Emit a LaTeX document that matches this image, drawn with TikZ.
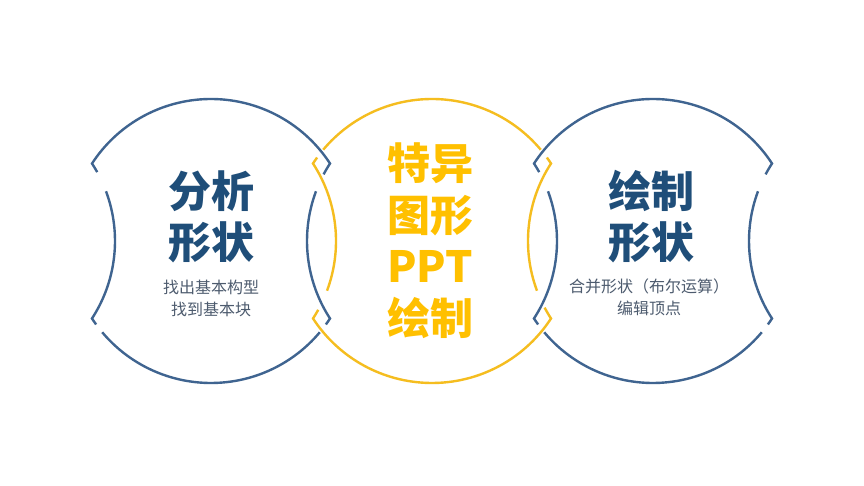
\documentclass[tikz,border=0pt]{standalone}
\usepackage{fontspec}
\newfontfamily\cjk{Noto Sans CJK SC}

\definecolor{lineblue}{HTML}{3F6490}
\definecolor{textblue}{HTML}{1F4E79}
\definecolor{notegray}{HTML}{4D5B6E}
\definecolor{linegold}{HTML}{F5BD1F}
\definecolor{textgold}{HTML}{FFC000}

\begin{document}
\begin{tikzpicture}[x=1pt,y=1pt,
  blueline/.style={draw=lineblue,line width=2.4pt,line join=miter},
  goldline/.style={draw=linegold,line width=2.4pt,line join=miter},
  bluetitle/.style={text=textblue,font=\cjk\bfseries\fontsize{43}{51}\selectfont,align=center,inner sep=0pt},
  goldtitle/.style={text=textgold,font=\cjk\bfseries\fontsize{43}{51.5}\selectfont,align=center,inner sep=0pt},
  note/.style={text=notegray,font=\cjk\fontsize{16}{22}\selectfont,align=center,inner sep=0pt}]
% Page
\fill[white] (0,0) rectangle (864,486);
\useasboundingbox (0,0) rectangle (864,486);
%
% Left shape, top arc with both corner hooks
\draw[blueline] ([shift={(152:142pt)}]449,245) arc[start angle=152,end angle=146.93,radius=142pt]
  arc[start angle=33.07,end angle=146.93,radius=142pt] arc[start angle=33.07,end angle=29,radius=142pt];
% Left shape, left side
\draw[blueline] ([shift={(20.5:142pt)}]-27,245) arc[start angle=20.5,end angle=-33.07,radius=142pt]
  arc[start angle=213.07,end angle=216,radius=142pt];
% Left shape, right side
\draw[blueline] ([shift={(159.5:142pt)}]449,245) arc[start angle=159.5,end angle=213.07,radius=142pt]
  arc[start angle=326.93,end angle=324,radius=142pt];
% Left shape, bottom arc
\draw[blueline] ([shift={(220:142pt)}]211,245) arc[start angle=220,end angle=320,radius=142pt];
%
% Right shape, top arc with both corner hooks
\draw[blueline] ([shift={(152:142pt)}]891,245) arc[start angle=152,end angle=146.93,radius=142pt]
  arc[start angle=33.07,end angle=146.93,radius=142pt] arc[start angle=33.07,end angle=29,radius=142pt];
% Right shape, left side
\draw[blueline] ([shift={(20.5:142pt)}]415,245) arc[start angle=20.5,end angle=-33.07,radius=142pt]
  arc[start angle=213.07,end angle=216,radius=142pt];
% Right shape, right side
\draw[blueline] ([shift={(159.5:142pt)}]891,245) arc[start angle=159.5,end angle=213.07,radius=142pt]
  arc[start angle=326.93,end angle=324,radius=142pt];
% Right shape, bottom arc
\draw[blueline] ([shift={(220:142pt)}]653,245) arc[start angle=220,end angle=320,radius=142pt];
%
% Middle shape, top arc
\draw[goldline] ([shift={(40:142pt)}]432,245) arc[start angle=40,end angle=140,radius=142pt];
% Middle shape, left side
\draw[goldline] ([shift={(144:142pt)}]432,245) arc[start angle=144,end angle=146.93,radius=142pt]
  arc[start angle=33.07,end angle=-20.5,radius=142pt];
% Middle shape, right side
\draw[goldline] ([shift={(36:142pt)}]432,245) arc[start angle=36,end angle=33.07,radius=142pt]
  arc[start angle=146.93,end angle=200.5,radius=142pt];
% Middle shape, bottom arc with both corner hooks
\draw[goldline] ([shift={(208:142pt)}]670,245) arc[start angle=208,end angle=213.07,radius=142pt]
  arc[start angle=326.93,end angle=213.07,radius=142pt] arc[start angle=-33.07,end angle=-29,radius=142pt];
%
% Texts
\node[bluetitle] (leftTitle) at (211,269.5) {分析\\形状};
\node[note] (leftNote) at (211,188) {找出基本构型\\找到基本块};
\node[goldtitle] (midTitle) at (430,245.5) {特异\\图形\\PPT\\绘制};
\node[bluetitle] (rightTitle) at (651,269.5) {绘制\\形状};
\node[note] (rightNote) at (649,188.5) {合并形状（布尔运算）\\编辑顶点};
\end{tikzpicture}
\end{document}
